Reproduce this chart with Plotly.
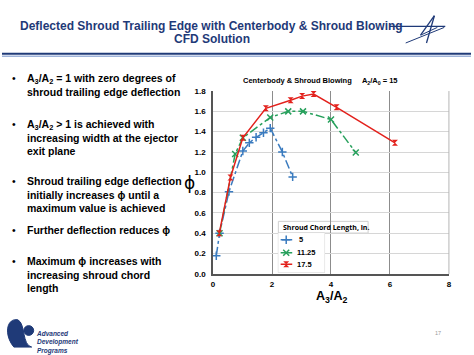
import plotly.graph_objects as go

# ---------------- data ----------------
x_5 = [0.11, 0.22, 0.54, 1.01, 1.23, 1.46, 1.71, 1.94, 2.35, 2.70]
y_5 = [0.18, 0.40, 0.81, 1.21, 1.29, 1.345, 1.39, 1.435, 1.20, 0.955]

x_1125 = [0.22, 0.75, 1.01, 1.94, 2.55, 3.05, 4.00, 4.84]
y_1125 = [0.40, 1.18, 1.34, 1.54, 1.60, 1.60, 1.52, 1.195]

x_175 = [0.21, 0.59, 1.01, 1.79, 2.63, 3.02, 3.41, 4.19, 6.17]
y_175 = [0.40, 0.95, 1.34, 1.63, 1.71, 1.75, 1.77, 1.64, 1.29]

series_names = ["5", "11.25", "17.5"]
x_ticks = [0, 2, 4, 6, 8]
y_ticks = [0.0, 0.2, 0.4, 0.6, 0.8, 1.0, 1.2, 1.4, 1.6, 1.8]

bullets = [
    "A<sub>3</sub>/A<sub>2</sub> = 1 with zero degrees of<br>shroud trailing edge deflection",
    "A<sub>3</sub>/A<sub>2</sub> > 1 is achieved with<br>increasing width at the ejector<br>exit plane",
    "Shroud trailing edge deflection<br>initially increases ϕ until a<br>maximum value is achieved",
    "Further deflection reduces ϕ",
    "Maximum ϕ increases with<br>increasing shroud chord<br>length",
]
bullet_tops = [68, 115, 173, 224, 255]

W, H = 474, 355
FONT = "Liberation Sans, Arial, sans-serif"
NAVY = "#1f3a78"

def px(xp):
    return xp / W

def py(yp):
    return 1 - yp / H

colors = ["#3a7bbf", "#27a05c", "#e3211c"]
dashes = ["dashdot", "dashdot", "solid"]
markers = [dict(symbol="cross-thin", size=6, line=dict(color=colors[0], width=1.5)),
           dict(symbol="x-thin", size=6, line=dict(color=colors[1], width=1.5)),
           dict(symbol="hourglass", size=6, color=colors[2])]

fig = go.Figure()
for xs, ys, i in [(x_5, y_5, 0), (x_1125, y_1125, 1), (x_175, y_175, 2)]:
    fig.add_trace(go.Scatter(
        x=xs, y=ys, name=series_names[i], mode="lines+markers",
        line=dict(color=colors[i], width=1.5, dash=dashes[i]),
        marker=markers[i], showlegend=False,
    ))

# ---- manual legend (glyphs on an overlay axis spanning the legend box) ----
LX0, LX1, LY0, LY1 = 279.3, 326.0, 235.0, 275.5   # pixel box
leg_rows = [0.83, 0.5, 0.21]
for i, r in enumerate(leg_rows):
    fig.add_trace(go.Scatter(
        x=[0.05, 0.17, 0.30], y=[r, r, r], xaxis="x2", yaxis="y2",
        mode="lines", line=dict(color=colors[i], width=1.5),
        showlegend=False, hoverinfo="skip"))
    fig.add_trace(go.Scatter(
        x=[0.17], y=[r], xaxis="x2", yaxis="y2", mode="markers",
        marker=markers[i], showlegend=False, hoverinfo="skip"))

x0p, x1p, y0p, y1p = 213.3, 451.7, 89.3, 277.0
fig.update_layout(
    width=W, height=H,
    margin=dict(l=0, r=0, t=0, b=0),
    paper_bgcolor="white", plot_bgcolor="white",
    font=dict(family=FONT, color="black"),
    xaxis=dict(domain=[px(x0p), px(x1p)], range=[0, 8], tickvals=x_ticks,
               showgrid=True, gridcolor="#8c8c8c", gridwidth=1,
               showline=True, linecolor="#555", linewidth=1.5, mirror=False,
               zeroline=False, ticks="", tickfont=dict(size=8, weight="bold"),
               ticklabelstandoff=2),
    yaxis=dict(domain=[py(y1p), py(y0p)], range=[0, 1.8], tickvals=y_ticks,
               tickformat=".1f",
               showgrid=True, gridcolor="#d6d6d6", gridwidth=1,
               showline=True, linecolor="#555", linewidth=1.5,
               zeroline=False, ticks="", tickfont=dict(size=8, weight="bold"),
               ticklabelstandoff=4),
    xaxis2=dict(domain=[px(LX0), px(LX1)], range=[0, 1], visible=False, anchor="y2",
                fixedrange=True),
    yaxis2=dict(domain=[py(LY1), py(LY0)], range=[0, 1], visible=False, anchor="x2",
                fixedrange=True),
    showlegend=False,
)

shapes = []
shapes.append(dict(type="line", xref="paper", yref="paper", x0=px(x1p), x1=px(x1p),
                   y0=py(y0p), y1=py(y1p), line=dict(color="#b5b5b5", width=1)))
shapes.append(dict(type="rect", xref="paper", yref="paper", x0=px(279.3), x1=px(370),
                   y0=py(235), y1=py(223), fillcolor="white", line=dict(color="#cfcfcf", width=1),
                   layer="between"))
shapes.append(dict(type="rect", xref="paper", yref="paper", x0=px(LX0), x1=px(LX1),
                   y0=py(LY1), y1=py(LY0), fillcolor="white", line=dict(color="#cfcfcf", width=1),
                   layer="between"))
shapes.append(dict(type="line", xref="paper", yref="paper", x0=0, x1=1, y0=py(51), y1=py(51),
                   line=dict(color=NAVY, width=2)))
shapes.append(dict(type="line", xref="paper", yref="paper", x0=0, x1=1, y0=py(53.5), y1=py(53.5),
                   line=dict(color="#9fb3d9", width=1.5)))
for (ax, ay, bx, by, w) in [
    (392, 23, 448, 23, 1.2),
    (437, 12, 429, 40, 1.3),
    (437, 12, 423, 32, 1.3),
    (408, 40, 447, 24, 1.0),
    (423, 32, 440, 24, 1.0),
]:
    shapes.append(dict(type="line", xref="paper", yref="paper", x0=px(ax), y0=py(ay),
                       x1=px(bx), y1=py(by), line=dict(color=NAVY, width=w)))
shapes.append(dict(type="path", xref="paper", yref="paper",
                   path=("M {a},{b} C {c},{d} {e},{f} {g},{h} C {i},{j} {k},{l} {m},{n} Z").format(
                       a=px(12), b=py(352), c=px(2), d=py(340), e=px(4), f=py(322), g=px(16), h=py(324),
                       i=px(24), j=py(328), k=px(20), l=py(350), m=px(30), n=py(352)),
                   fillcolor=NAVY, line=dict(color=NAVY, width=1)))
shapes.append(dict(type="circle", xref="paper", yref="paper", x0=px(22), x1=px(32),
                   y0=py(340), y1=py(330), fillcolor=NAVY, line=dict(color=NAVY, width=1)))
fig.update_layout(shapes=shapes)

ann = []
ann.append(dict(text="Deflected Shroud Trailing Edge with Centerbody & Shroud Blowing",
                x=px(212), y=py(22.5), xref="paper", yref="paper", xanchor="center", yanchor="middle",
                showarrow=False, font=dict(size=12, color=NAVY, family=FONT, weight="bold")))
ann.append(dict(text="CFD Solution",
                x=px(212), y=py(36), xref="paper", yref="paper", xanchor="center", yanchor="middle",
                showarrow=False, font=dict(size=12, color=NAVY, family=FONT, weight="bold")))
for t, top in zip(bullets, bullet_tops):
    ann.append(dict(text=t, x=px(23), y=py(top), xref="paper", yref="paper",
                    xanchor="left", yanchor="top", showarrow=False, align="left",
                    font=dict(size=10.5, color="black", family=FONT, weight="bold")))
    ann.append(dict(text="•", x=px(8), y=py(top), xref="paper", yref="paper",
                    xanchor="left", yanchor="top", showarrow=False,
                    font=dict(size=10.5, color="black", family=FONT)))
ann.append(dict(text="Centerbody & Shroud Blowing     A<sub>2</sub>/A<sub>0</sub> = 15",
                x=px(322), y=py(79), xref="paper", yref="paper", xanchor="center", yanchor="middle",
                showarrow=False, font=dict(size=7.5, family=FONT, weight="bold")))
ann.append(dict(text="ϕ", x=px(189), y=py(184), xref="paper", yref="paper",
                xanchor="center", yanchor="middle", showarrow=False,
                font=dict(size=17, family="DejaVu Sans, sans-serif")))
ann.append(dict(text="A<sub>3</sub>/A<sub>2</sub>", x=px(333), y=py(301), xref="paper", yref="paper",
                xanchor="center", yanchor="middle", showarrow=False,
                font=dict(size=12.5, family=FONT, weight="bold")))
ann.append(dict(text="Shroud Chord Length, in.", x=px(282), y=py(229.5), xref="paper", yref="paper",
                xanchor="left", yanchor="middle", showarrow=False,
                font=dict(size=7, family="Open Sans, sans-serif", weight="bold")))
for i, (name, r) in enumerate(zip(series_names, leg_rows)):
    ann.append(dict(text=name, x=0.36 if i else 0.50, y=r, xref="x2", yref="y2",
                    xanchor="left" if i else "center", yanchor="middle", showarrow=False,
                    font=dict(size=7.5, family=FONT, weight="bold")))
ann.append(dict(text="<i>Advanced<br>Development<br>Programs</i>", x=px(32), y=py(332), xref="paper",
                yref="paper", xanchor="left", yanchor="top", showarrow=False, align="left",
                font=dict(size=6.5, color=NAVY, family=FONT, weight="bold")))
ann.append(dict(text="17", x=px(441), y=py(338), xref="paper", yref="paper",
                xanchor="center", yanchor="middle", showarrow=False,
                font=dict(size=5.5, color="#999", family=FONT)))
fig.update_layout(annotations=ann)

fig.write_html("out.html", config={"displayModeBar": False},
               post_script="document.body.style.margin='0';document.body.style.overflow='hidden';")
